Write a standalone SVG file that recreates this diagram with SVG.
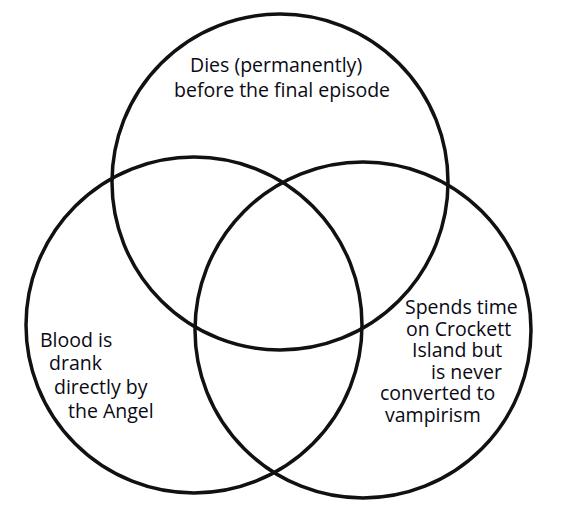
<svg xmlns="http://www.w3.org/2000/svg" width="568" height="528" viewBox="0 0 568 528">
<style>
.c{fill:none;stroke:#111;stroke-width:3.5}
.t{font-family:"Open Sans","Noto Sans","DejaVu Sans",sans-serif;font-size:19.5px;font-weight:500;fill:#0a0a14}
</style>
<rect width="568" height="528" fill="#fff"/>
<g id="top"><circle class="c" cx="280" cy="182" r="168"/>
<text class="t"><tspan x="190" y="72">Dies (permanently)</tspan><tspan x="174" y="97">before the final episode</tspan></text></g>
<g id="left"><circle class="c" cx="194" cy="325" r="168"/>
<text class="t"><tspan x="40" y="347">Blood is</tspan><tspan x="49" y="370">drank</tspan><tspan x="54" y="394">directly by</tspan><tspan x="68" y="418">the Angel</tspan></text></g>
<g id="right"><circle class="c" cx="363" cy="330" r="168"/>
<text class="t"><tspan x="405" y="314">Spends time</tspan><tspan x="406" y="336">on Crockett</tspan><tspan x="412" y="357">Island but</tspan><tspan x="431" y="379">is never</tspan><tspan x="380" y="400">converted to</tspan><tspan x="385" y="422">vampirism</tspan></text></g>
<g id="connectors"/>
</svg>
